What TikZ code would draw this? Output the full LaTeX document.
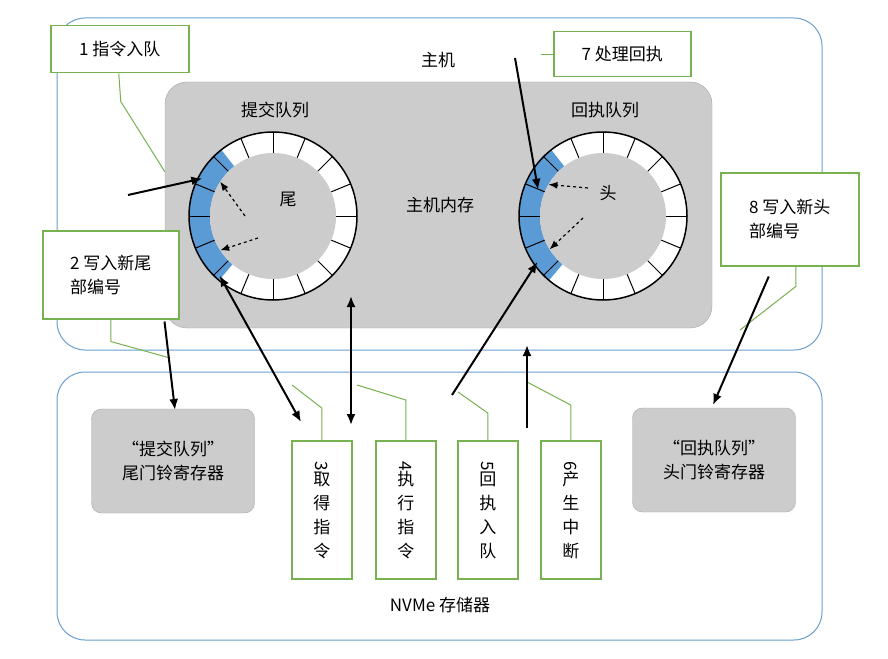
\documentclass[tikz,border=0pt]{standalone}
\usepackage{fontspec}
\setmainfont{Noto Sans CJK SC}
\usetikzlibrary{arrows.meta,calc}
\definecolor{frameblue}{HTML}{6A9FD0}
\definecolor{callgreen}{HTML}{77B150}
\definecolor{memgray}{HTML}{CCCCCC}
\definecolor{slotblue}{HTML}{5B9BD5}
\begin{document}
\begin{tikzpicture}[x=1pt,y=-1pt,
   frame/.style={draw=frameblue,line width=1pt,rounded corners=28pt,fill=white},
   call/.style={draw=callgreen,line width=1.5pt,fill=white,align=left,inner sep=6pt},
   lead/.style={draw=callgreen,line width=1pt},
   vbox/.style={call,minimum width=60pt,minimum height=138pt,anchor=north west,align=center,inner sep=2pt},
   bell/.style={draw=gray!70,fill=memgray,rounded corners=10pt,align=center,minimum width=163pt,minimum height=104pt},
   act/.style={line width=2pt,-{Latex[length=11pt,width=9pt]}},
   ptr/.style={line width=1.2pt,dashed,-{Latex[length=9pt,width=7pt]}},
   both/.style={line width=2pt,{Latex[length=11pt,width=9pt]}-{Latex[length=11pt,width=9pt]}}
   ]
  \useasboundingbox (0,0) rectangle (888,658);
  \tikzset{every node/.append style={font=\fontsize{17}{24}\selectfont}}

  % -- host and device frames
  \draw[frame] (57,18) rectangle (822,350);
  \draw[frame] (57,372) rectangle (822,640);
  \draw[draw=gray!70,fill=memgray,rounded corners=22pt] (165,82) rectangle (712,328);

  % -- the two rings
  \foreach \cx/\nm in {273/sq,603/cq}{
    \fill[white] (\cx,216) circle (84);
    \fill[slotblue] (\cx,216) ++(130:84) arc[start angle=130,end angle=232,radius=84]
       -- ++(232:-21) arc[start angle=232,end angle=130,radius=63] -- cycle;
    \foreach \a in {0,22.5,...,359}
      \draw[line width=1pt] (\cx,216) ++(\a:63) -- ++(\a:21);
    \draw[line width=1.5pt] (\cx,216) circle (84);
    \fill[memgray] (\cx,216) circle (63);
    \coordinate (\nm) at (\cx,216);
  }

  % -- texts in the host
  \node (host) at (438,60) {主机};
  \node (sqt) at (275,110) {提交队列};
  \node (cqt) at (605,110) {回执队列};
  \node (tail) at (288,199) {尾};
  \node (head) at (608,193) {头};
  \node (mem) at (440,205) {主机内存};
  \node (nvme) at (440,605) {NVMe\ 存储器};

  % -- callouts
  \node[call,anchor=north west,minimum width=138pt,minimum height=47pt] (c1) at (50,25) {1 指令入队};
  \node[call,anchor=north west,minimum width=137pt,minimum height=45pt] (c7) at (553,31) {7 处理回执};
  \node[call,anchor=north west,minimum width=136pt,minimum height=88pt] (c2) at (42,230) {2 写入新尾\\部编号};
  \node[call,anchor=north west,minimum width=138pt,minimum height=93pt] (c8) at (720,172) {8 写入新头\\部编号};
  \node[vbox] (c3) at (291,440) {\rotatebox{-90}{3}\\取\\得\\指\\令};
  \node[vbox] (c4) at (375,440) {\rotatebox{-90}{4}\\执\\行\\指\\令};
  \node[vbox] (c5) at (457,440) {\rotatebox{-90}{5}\\回\\执\\入\\队};
  \node[vbox] (c6) at (540,440) {\rotatebox{-90}{6}\\产\\生\\中\\断};
  \node[bell] (sqdb) at (173,461) {“提交队列”\\尾门铃寄存器};
  \node[bell] (cqdb) at (714,460) {“回执队列”\\头门铃寄存器};

  % -- leaders
  \draw[lead] (c1.south) ++(-1,0) -- ++(2,28) -- (165,172);
  \draw[lead] (c7.west) -- ++(-12,0);
  \draw[lead] (c2.south) ++(0,0) -- ++(0,22) -- (170,358);
  \draw[lead] (c8.south) ++(6,0) -- ++(0,20) -- (740,330);
  \draw[lead] (c3.north) -- ++(0,-32) -- (292,385);
  \draw[lead] (c4.north) -- ++(0,-40) -- (357,385);
  \draw[lead] (c5.north) -- ++(0,-27) -- (458,392);
  \draw[lead] (c6.north) -- ++(0,-35) -- (527,382);

  % -- actions
  \coordinate (a1) at (128,195);
  \draw[act] (a1) -- ($(sq)+(208:80)$);
  \draw[ptr] (sq) ++(-28,0) -- ($(sq)+(213:63)$);
  \draw[ptr] (sq) ++(-15,22) -- ($(sq)+(147:63)$);
  \draw[both] (c3.north west) ++(10,-18) -- ($(sq)+(132:80)$);
  \draw[both] (351,296) -- (351,425);
  \coordinate (a5) at (452,395);
  \draw[act] (a5) -- ($(cq)+(145:80)$);
  \coordinate (a6) at (527,428);
  \draw[act] (a6) -- (527,345);
  \coordinate (a7) at (515,58);
  \draw[act] (a7) -- ($(cq)+(202:70)$);
  \draw[ptr] (cq) ++(-15,-28) -- ($(cq)+(210:63)$);
  \draw[ptr] (cq) ++(-20,2) -- ($(cq)+(148:63)$);
  \draw[act] (c8.south) ++(-21,10) -- (713,405);
  \draw[act] (c2.south east) ++(-15,2) -- (175,410);
\end{tikzpicture}
\end{document}
